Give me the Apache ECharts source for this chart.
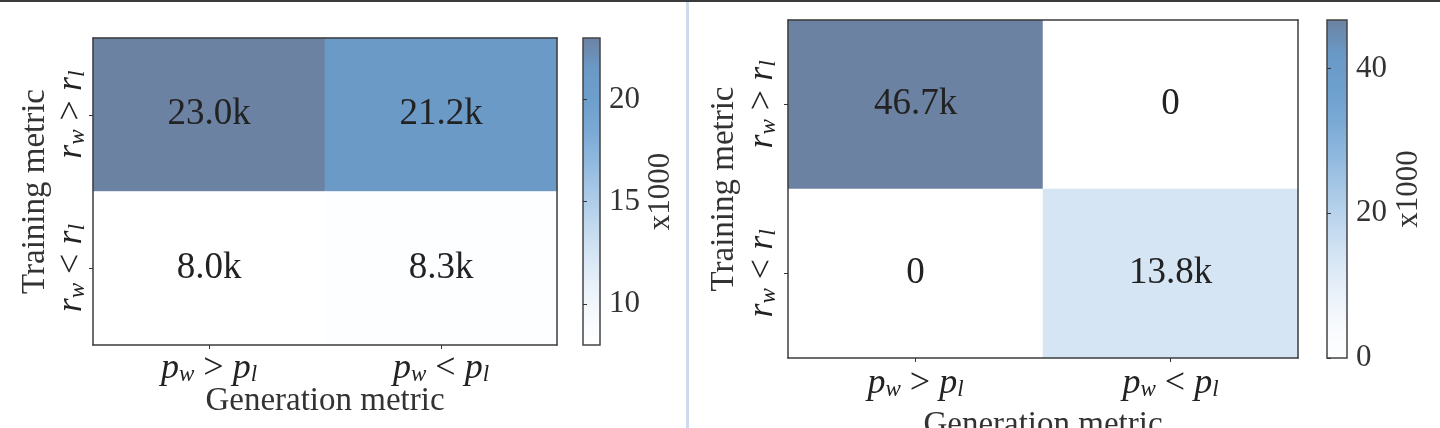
<!doctype html>
<html>
<head>
<meta charset="UTF-8">
<title>Training vs generation metric</title>
<style>
html, body { margin: 0; padding: 0; background: #fff; }
body { border-top: 2px solid #3a3a3a; width: 1440px; height: 426px; overflow: hidden; }
.wrap { display: flex; }
#left { width: 686px; height: 426px; }
#right { width: 751px; height: 426px; border-left: 3px solid #cddcea; }
</style>
</head>
<body>
<div class="wrap">
	<div id="left"></div>
	<div id="right"></div>
</div>
<script src="https://cdn.jsdelivr.net/npm/echarts@6/dist/echarts.min.js"></script>
<script>
// categories
var genCats = ['p_w > p_l', 'p_w < p_l'];
var trainCats = ['r_w > r_l', 'r_w < r_l'];
// counts in thousands, rows = training metric, cols = generation metric
var leftValues = [[23.0, 21.2], [8.0, 8.3]];
var rightValues = [[46.7, 0], [0, 13.8]];
var leftRange = [8.0, 23.0];
var rightRange = [0, 46.7];
var leftTicks = [10, 15, 20];
var rightTicks = [0, 20, 40];

var cmap = ['#ffffff', '#f7fafd', '#e8f0f9', '#d5e5f4', '#bfd7ee', '#a7c8e6',
	'#8fb8de', '#7aa9d5', '#6d9fcd', '#6a99c6', '#6c82a2'];
var serif = 'Liberation Serif';

function mathLabel(s) {
	var parts = s.split(' ');
	function tok(t) {
		var a = t.split('_');
		return '{i|' + a[0] + '}{s|' + a[1] + '}';
	}
	return tok(parts[0]) + '{o| ' + parts[1] + ' }' + tok(parts[2]);
}

var mathRich = {
	i: { fontFamily: serif, fontStyle: 'italic', fontSize: 36, lineHeight: 34, color: '#222' },
	s: { fontFamily: serif, fontStyle: 'italic', fontSize: 23, lineHeight: 8, verticalAlign: 'bottom', color: '#222' },
	o: { fontFamily: serif, fontSize: 36, lineHeight: 34, color: '#222' }
};

function toCells(values) {
	var out = [];
	for (var r = 0; r < values.length; r++) {
		for (var c = 0; c < values[r].length; c++) {
			out.push([c, r, values[r][c]]);
		}
	}
	return out;
}

function buildOption(cfg) {
	var frame = { show: true, lineStyle: { color: '#3c3c3c', width: 1.5 } };
	cfg.grid.outerBoundsMode = 'none';
	cfg.bar.outerBoundsMode = 'none';
	cfg.bar.show = true;
	cfg.bar.borderColor = '#444';
	cfg.bar.borderWidth = 1.5;
	cfg.bar.backgroundColor = new echarts.graphic.LinearGradient(0, 0, 0, 1,
		cmap.map(function(c, k) { return { offset: 1 - k / (cmap.length - 1), color: c }; }).reverse());
	return {
		animation: false,
		grid: [cfg.grid, cfg.bar],
		visualMap: {
			show: false,
			seriesIndex: 0,
			min: cfg.range[0],
			max: cfg.range[1],
			inRange: { color: cmap }
		},
		xAxis: [{
			type: 'category',
			gridIndex: 0,
			data: genCats,
			z: 10,
			axisLine: frame,
			axisTick: { show: true, alignWithLabel: true, length: 4, lineStyle: { color: '#333' } },
			axisLabel: {
				margin: cfg.xLabelMargin,
				formatter: function(v) { return mathLabel(v); },
				rich: mathRich
			},
			splitLine: { show: false },
			name: 'Generation metric',
			nameLocation: 'middle',
			nameMoveOverlap: false,
			nameGap: cfg.xNameGap,
			nameTextStyle: { fontFamily: serif, fontSize: 33, color: '#333' }
		}, {
			type: 'category',
			gridIndex: 0,
			position: 'top',
			data: genCats,
			z: 10,
			axisLine: frame,
			axisTick: { show: false },
			axisLabel: { show: false }
		}, {
			type: 'value',
			gridIndex: 1,
			show: false
		}],
		yAxis: [{
			type: 'category',
			gridIndex: 0,
			data: trainCats,
			inverse: true,
			z: 10,
			axisLine: frame,
			axisTick: { show: true, alignWithLabel: true, length: 4, lineStyle: { color: '#333' } },
			axisLabel: {
				rotate: 90,
				margin: cfg.yLabelMargin,
				formatter: function(v) { return mathLabel(v); },
				rich: mathRich
			},
			name: 'Training metric',
			nameLocation: 'middle',
			nameMoveOverlap: false,
			nameGap: cfg.yNameGap,
			nameTextStyle: { fontFamily: serif, fontSize: 33, color: '#333' }
		}, {
			type: 'category',
			gridIndex: 0,
			position: 'right',
			data: trainCats,
			inverse: true,
			z: 10,
			axisLine: frame,
			axisTick: { show: false },
			axisLabel: { show: false }
		}, {
			type: 'value',
			gridIndex: 1,
			position: 'right',
			min: cfg.range[0],
			max: cfg.range[1],
			axisLine: { show: false },
			splitLine: { show: false },
			axisTick: { show: true, length: 4, customValues: cfg.ticks, lineStyle: { color: '#333' } },
			axisLabel: {
				margin: 9,
				customValues: cfg.ticks,
				fontFamily: serif,
				fontSize: 31,
				color: '#333'
			},
			name: 'x1000',
			nameLocation: 'middle',
			nameMoveOverlap: false,
			nameRotate: 90,
			nameGap: cfg.barNameGap,
			nameTextStyle: { fontFamily: serif, fontSize: 31, color: '#333' }
		}],
		series: [{
			type: 'heatmap',
			xAxisIndex: 0,
			yAxisIndex: 0,
			data: toCells(cfg.values),
			label: {
				show: true,
				fontFamily: serif,
				fontSize: 37,
				color: '#222',
				formatter: function(p) {
					var v = p.value[2];
					return v === 0 ? '0' : v.toFixed(1) + 'k';
				}
			},
			emphasis: { disabled: true }
		}]
	};
}

var leftChart = echarts.init(document.getElementById('left'));
leftChart.setOption(buildOption({
	grid: { left: 93, top: 36, width: 464, height: 307 },
	bar: { left: 583, top: 36, width: 17, height: 307 },
	range: leftRange,
	ticks: leftTicks,
	values: leftValues,
	xLabelMargin: 7,
	xNameGap: 40,
	yLabelMargin: 4,
	yNameGap: 41,
	barNameGap: 45
}));

var rightChart = echarts.init(document.getElementById('right'));
rightChart.setOption(buildOption({
	grid: { left: 99, top: 18, width: 510, height: 338 },
	bar: { left: 638, top: 18, width: 20, height: 338 },
	range: rightRange,
	ticks: rightTicks,
	values: rightValues,
	xLabelMargin: 9,
	xNameGap: 51,
	yLabelMargin: 8,
	yNameGap: 47,
	barNameGap: 46
}));
</script>
</body>
</html>
